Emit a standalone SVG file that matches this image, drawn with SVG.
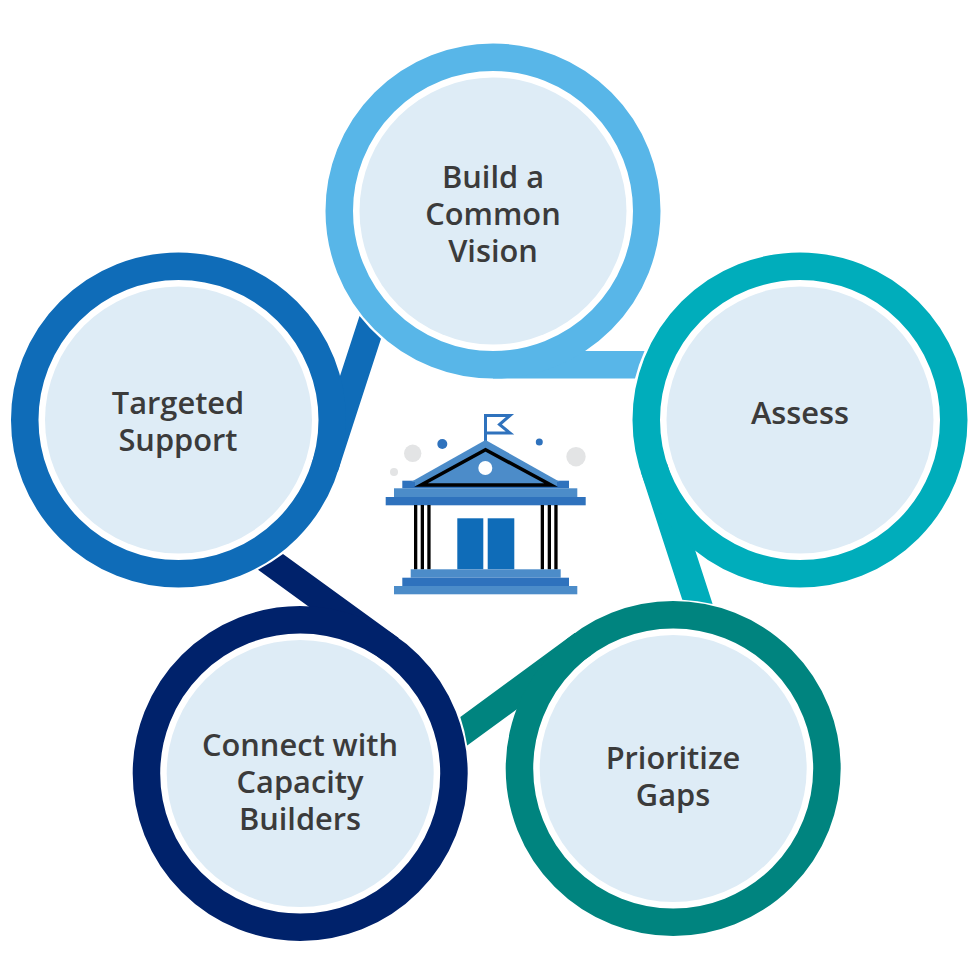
<svg xmlns="http://www.w3.org/2000/svg" width="980" height="980" viewBox="0 0 980 980">
<style>
.fill{fill:#deecf6}
.ring{fill:none;stroke-width:27.5}
text{font-family:"Open Sans","Noto Sans",sans-serif;font-size:30.8px;font-weight:600;fill:#3b3b3b;text-anchor:middle}
.m{fill:#4c8cc9}.d{fill:#2f72bd}.b{fill:#0f6cb8}.k{fill:#000}.g{fill:#e3e4e5}
</style>
<rect width="980" height="980" fill="#fff"/>
<g id="connectors">
<path id="tail-vision" fill="#58b6e8" d="M493 351L644.500 351A170 170 0 0 0 635 378.500L493 378.500Z"/>
<path id="tail-assess" fill="#00adbb" d="M640.700 471.800L682.300 599.700A169 169 0 0 1 712.600 604L666.900 463.300Z"/>
<path id="tail-gaps" fill="#00847f" d="M574.700 633L460.300 717A169.500 169.500 0 0 1 467.200 745.500L590.900 655.200Z"/>
<path id="tail-connect" fill="#00226b" d="M398.700 638L283 554A170 170 0 0 1 258 569.700L382.500 660.200Z"/>
<path id="tail-support" fill="#0f6cb8" d="M337.800 471.800L381 338.700A170 170 0 0 1 359.500 316L311.600 463.300Z"/>
</g>
<g id="node-vision"><circle class="ring" cx="493" cy="211" r="153.750" stroke="#58b6e8"/><circle class="fill" cx="493" cy="211" r="133.500"/><text x="493" y="188">Build a</text><text x="493" y="225">Common</text><text x="493" y="262">Vision</text></g>
<g id="node-assess"><circle class="ring" cx="800" cy="420" r="153.750" stroke="#00adbb"/><circle class="fill" cx="800" cy="420" r="133.500"/><text x="800" y="424">Assess</text></g>
<g id="node-gaps"><circle class="ring" cx="673.200" cy="768.500" r="153.750" stroke="#00847f"/><circle class="fill" cx="673.200" cy="768.500" r="133.500"/><text x="673" y="769">Prioritize</text><text x="673" y="806">Gaps</text></g>
<g id="node-connect"><circle class="ring" cx="300.200" cy="773.500" r="153.750" stroke="#00226b"/><circle class="fill" cx="300.200" cy="773.500" r="133.500"/><text x="300" y="756">Connect with</text><text x="300" y="793">Capacity</text><text x="300" y="830">Builders</text></g>
<g id="node-support"><circle class="ring" cx="178.500" cy="420" r="153.750" stroke="#0f6cb8"/><circle class="fill" cx="178.500" cy="420" r="133.500"/><text x="178" y="414">Targeted</text><text x="178" y="451">Support</text></g>
<g id="building">
<circle class="g" cx="412.700" cy="453.300" r="8.700"/><circle class="g" cx="394" cy="472" r="4"/><circle class="g" cx="576" cy="456.700" r="9.700"/><circle class="d" cx="442.300" cy="444" r="5"/><circle class="d" cx="539.300" cy="442" r="3.500"/>
<path fill="none" stroke="#2f72bd" stroke-width="3" d="M485.500 441V415.500H510L499.500 424.500L510 433H485.500"/>
<rect class="d" x="402.300" y="480.700" width="166.700" height="7.700"/>
<path class="m" d="M411 482L485.500 440L560 482Z"/>
<rect class="m" x="415" y="481" width="142" height="5"/>
<path fill="none" stroke="#000" stroke-width="3.500" stroke-miterlimit="8" d="M421 485L485.500 449.700L551 485Z"/>
<circle cx="485.300" cy="468" r="7" fill="#fff"/>
<rect class="m" x="394" y="488.300" width="183.300" height="8.800"/>
<rect class="d" x="385.700" y="497" width="200" height="8.300"/>
<g class="k"><rect x="414" y="505" width="3.300" height="64.500"/><rect x="420.700" y="505" width="3.300" height="64.500"/><rect x="427.300" y="505" width="3.300" height="64.500"/><rect x="540.700" y="505" width="3.300" height="64.500"/><rect x="547.700" y="505" width="3.300" height="64.500"/><rect x="554.300" y="505" width="3.300" height="64.500"/></g>
<rect class="b" x="457.300" y="518.300" width="26" height="51"/><rect class="b" x="487.700" y="518.300" width="26.600" height="51"/>
<rect class="m" x="410.700" y="569.300" width="150" height="8.400"/><rect class="d" x="402.300" y="577.700" width="166.700" height="8.300"/><rect class="m" x="394" y="586" width="183.300" height="8.300"/>
</g>
</svg>
